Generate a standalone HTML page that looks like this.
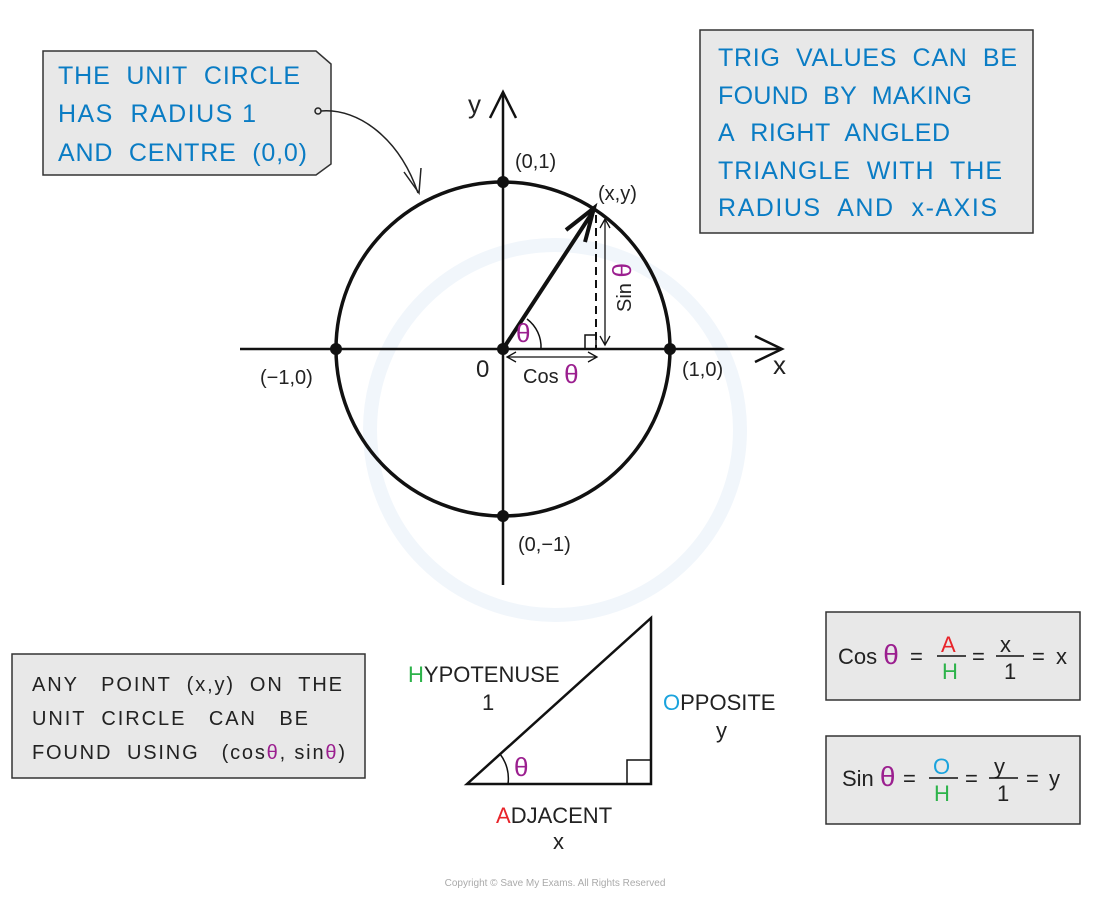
<!DOCTYPE html>
<html><head><meta charset="utf-8"><style>
body{margin:0;background:#fff;}
svg{display:block;font-family:"Liberation Sans",sans-serif;}
.b{fill:#0a7cc4;font-size:25px;}
.k{fill:#222;}
.p{fill:#9b1f8f;}
</style></head><body>
<svg width="1100" height="901" viewBox="0 0 1100 901">
<circle cx="555" cy="430" r="185" fill="none" stroke="#f1f6fb" stroke-width="14"/>
<polygon points="43,51 316,51 331,64 331,164 316,175 43,175" fill="#e8e8e8" stroke="#333" stroke-width="1.5"/>
<text class="b" x="58" y="84" textLength="242" lengthAdjust="spacing">THE&#160; UNIT&#160; CIRCLE</text>
<text class="b" x="58" y="122" textLength="198" lengthAdjust="spacing">HAS&#160; RADIUS&#160;1</text>
<text class="b" x="58" y="161" textLength="249" lengthAdjust="spacing">AND&#160; CENTRE&#160; (0,0)</text>
<circle cx="318" cy="111" r="3" fill="none" stroke="#222" stroke-width="1.5"/>
<path d="M321,111 C360,108 400,140 418,193" fill="none" stroke="#222" stroke-width="1.5"/>
<path d="M404,172 L419,193 L421,168" fill="none" stroke="#222" stroke-width="1.5"/>
<rect x="700" y="30" width="333" height="203" fill="#e8e8e8" stroke="#333" stroke-width="1.5"/>
<text class="b" x="718" y="66" textLength="299" lengthAdjust="spacing">TRIG&#160; VALUES&#160; CAN&#160; BE</text>
<text class="b" x="718" y="104" textLength="254" lengthAdjust="spacing">FOUND&#160; BY&#160; MAKING</text>
<text class="b" x="718" y="141" textLength="232" lengthAdjust="spacing">A&#160; RIGHT&#160; ANGLED</text>
<text class="b" x="718" y="179" textLength="284" lengthAdjust="spacing">TRIANGLE&#160; WITH&#160; THE</text>
<text class="b" x="718" y="216" textLength="279" lengthAdjust="spacing">RADIUS&#160; AND&#160; x-AXIS</text>
<line x1="240" y1="349" x2="782" y2="349" stroke="#111" stroke-width="2.5"/>
<path d="M755,336 L782,349 L755,362" fill="none" stroke="#111" stroke-width="2.5"/>
<line x1="503" y1="585" x2="503" y2="92" stroke="#111" stroke-width="2.5"/>
<path d="M490,118 L503,92 L516,118" fill="none" stroke="#111" stroke-width="2.5"/>
<text x="468" y="113" font-size="26" class="k">y</text>
<text x="773" y="374" font-size="26" class="k">x</text>
<circle cx="503" cy="349" r="167" fill="none" stroke="#111" stroke-width="3.5"/>
<g fill="#111"><circle cx="503" cy="182" r="6"/><circle cx="503" cy="516" r="6"/><circle cx="336" cy="349" r="6"/><circle cx="670" cy="349" r="6"/><circle cx="503" cy="349" r="6"/></g>
<g font-size="20" class="k">
<text x="515" y="168">(0,1)</text>
<text x="518" y="551">(0,&#8722;1)</text>
<text x="260" y="384">(&#8722;1,0)</text>
<text x="682" y="376">(1,0)</text>
<text x="598" y="200">(x,y)</text>
<text x="476" y="377" font-size="24">0</text>
</g>
<line x1="503" y1="349" x2="594" y2="210" stroke="#111" stroke-width="4"/>
<path d="M566,230 L594,208 L585,242" fill="none" stroke="#111" stroke-width="4"/>
<line x1="596" y1="215" x2="596" y2="349" stroke="#111" stroke-width="2" stroke-dasharray="8,5"/>
<rect x="585" y="335" width="11" height="14" fill="none" stroke="#111" stroke-width="1.5"/>
<line x1="605" y1="220" x2="605" y2="344" stroke="#111" stroke-width="1.3"/>
<path d="M600,228 L605,219 L610,228 M600,336 L605,345 L610,336" fill="none" stroke="#111" stroke-width="1.3"/>
<line x1="508" y1="357" x2="596" y2="357" stroke="#111" stroke-width="1.3"/>
<path d="M516,352 L507,357 L516,362 M588,352 L597,357 L588,362" fill="none" stroke="#111" stroke-width="1.3"/>
<path d="M527,319 A35,35 0 0 1 541,349" fill="none" stroke="#111" stroke-width="1.5"/>
<text x="516" y="342" font-size="26" class="p">&#952;</text>
<text x="523" y="383" font-size="20" class="k">Cos <tspan class="p" font-size="26">&#952;</tspan></text>
<text transform="translate(631,312) rotate(-90)" font-size="20" class="k">Sin <tspan class="p" font-size="26">&#952;</tspan></text>
<rect x="12" y="654" width="353" height="124" fill="#e8e8e8" stroke="#333" stroke-width="1.5"/>
<g font-size="20" class="k">
<text x="32" y="691" textLength="310" lengthAdjust="spacing">ANY&#160;&#160; POINT&#160; (x,y)&#160; ON&#160; THE</text>
<text x="32" y="725" textLength="276" lengthAdjust="spacing">UNIT&#160; CIRCLE&#160;&#160; CAN&#160;&#160; BE</text>
<text x="32" y="759" textLength="313" lengthAdjust="spacing">FOUND&#160; USING&#160;&#160; (cos<tspan class="p">&#952;</tspan>, sin<tspan class="p">&#952;</tspan>)</text>
</g>
<polygon points="467,784 651,618 651,784" fill="none" stroke="#111" stroke-width="2.5"/>
<rect x="627" y="760" width="24" height="24" fill="none" stroke="#111" stroke-width="1.5"/>
<path d="M500,754 A40,40 0 0 1 508,784" fill="none" stroke="#111" stroke-width="1.5"/>
<text x="514" y="776" font-size="26" class="p">&#952;</text>
<g font-size="22" class="k">
<text x="408" y="682"><tspan fill="#2db34a">H</tspan>YPOTENUSE</text>
<text x="482" y="710">1</text>
<text x="663" y="710"><tspan fill="#1aa3dd">O</tspan>PPOSITE</text>
<text x="716" y="738">y</text>
<text x="496" y="823"><tspan fill="#e8242a">A</tspan>DJACENT</text>
<text x="553" y="849">x</text>
</g>
<rect x="826" y="612" width="254" height="88" fill="#e8e8e8" stroke="#333" stroke-width="1.5"/>
<rect x="826" y="736" width="254" height="88" fill="#e8e8e8" stroke="#333" stroke-width="1.5"/>
<g font-size="22" class="k">
<text x="838" y="664">Cos <tspan class="p" font-size="28">&#952;</tspan></text>
<text x="910" y="664">=</text>
<text x="941" y="652" fill="#e8242a">A</text><line x1="937" y1="656" x2="966" y2="656" stroke="#111" stroke-width="1.5"/><text x="942" y="679" fill="#2db34a">H</text>
<text x="972" y="664">=</text>
<text x="1000" y="652">x</text><line x1="996" y1="656" x2="1024" y2="656" stroke="#111" stroke-width="1.5"/><text x="1004" y="679">1</text>
<text x="1032" y="664">=</text><text x="1056" y="664">x</text>
<text x="842" y="786">Sin <tspan class="p" font-size="28">&#952;</tspan></text>
<text x="903" y="786">=</text>
<text x="933" y="774" fill="#1aa3dd">O</text><line x1="929" y1="778" x2="958" y2="778" stroke="#111" stroke-width="1.5"/><text x="934" y="801" fill="#2db34a">H</text>
<text x="965" y="786">=</text>
<text x="994" y="774">y</text><line x1="989" y1="778" x2="1018" y2="778" stroke="#111" stroke-width="1.5"/><text x="997" y="801">1</text>
<text x="1026" y="786">=</text><text x="1049" y="786">y</text>
</g>
<text x="555" y="886" font-size="10" fill="#aaa" text-anchor="middle">Copyright © Save My Exams. All Rights Reserved</text>
</svg>
</body></html>
